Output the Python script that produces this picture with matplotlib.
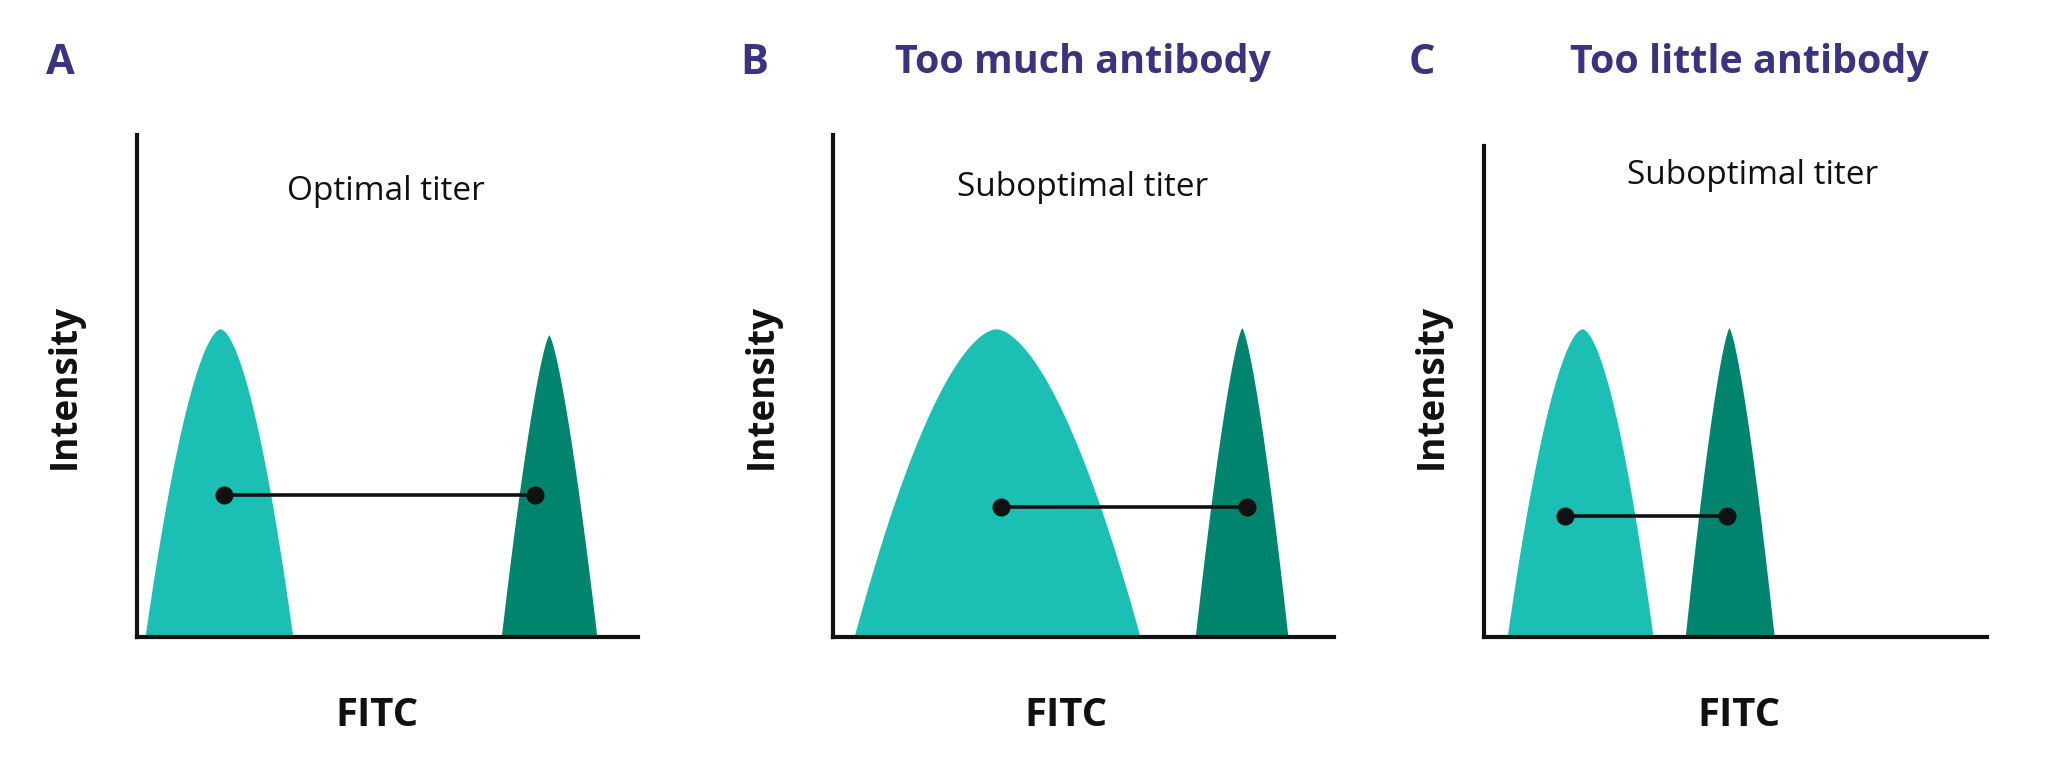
import numpy as np
import matplotlib
matplotlib.use("Agg")
import matplotlib.pyplot as plt

W, H = 2050, 774

# ---- data (x in % of axis width, y in % of axis height) ----
panel_letters = ["A", "B", "C"]
panel_titles = ["", "Too much antibody", "Too little antibody"]
subtitles = ["Optimal titer", "Suboptimal titer", "Suboptimal titer"]

neg_left = [1.6, 4.2, 4.6]
neg_peak = [16.6, 32.5, 19.5]
neg_right = [31.1, 61.3, 33.6]
neg_height = [61.4, 61.4, 61.4]

pos_left = [72.7, 72.3, 40.0]
pos_peak = [82.2, 81.6, 48.7]
pos_right = [91.8, 90.8, 57.7]
pos_height = [60.2, 61.6, 61.6]

link_y = [28.3, 25.9, 24.1]
link_x0 = [17.4, 33.5, 16.1]
link_x1 = [79.4, 82.6, 48.3]

y_top = [100.0, 100.0, 97.8]

# ---- layout (pixels) ----
axes_px = [(137, 638, 135), (833, 1334, 135), (1484, 1987, 146)]
axis_bottom = 637
letter_xy = [(60, 63), (754, 63), (1422, 63)]
title_xy = [(0, 0), (1083, 63), (1749, 63)]
sub_xy = [(386, 191), (1083, 187), (1753, 176)]
ylab_xy = [(65, 386), (762, 386), (1432, 386)]
xlab_xy = [(377, 716), (1066, 716), (1739, 716)]

teal = "#1BBFB3"
dark = "#00846E"
purple = "#38347F"
ink = "#111111"

fig = plt.figure(figsize=(W / 100, H / 100), dpi=100)
fig.patch.set_facecolor("white")

def fx(x):
    return x / W

def fy(y):
    return 1 - y / H

def hump(left, peak, right, height, power, n=300):
    xl = np.linspace(left, peak, n)
    xr = np.linspace(peak, right, n)
    tl = (peak - xl) / (peak - left)
    tr = (xr - peak) / (right - peak)
    yl = height * (1 - tl ** power)
    yr = height * (1 - tr ** power)
    return np.concatenate([xl, xr]), np.concatenate([yl, yr])

for i in range(3):
    x0, x1, top = axes_px[i]
    ax = fig.add_axes([fx(x0), fy(axis_bottom), (x1 - x0) / W, (axis_bottom - top) / H])
    ax.set_xlim(0, 100)
    ax.set_ylim(0, y_top[i])
    for s in ["top", "right"]:
        ax.spines[s].set_visible(False)
    for s in ["left", "bottom"]:
        ax.spines[s].set_linewidth(3.0)
        ax.spines[s].set_color(ink)
        ax.spines[s].set_zorder(5)
    ax.set_xticks([])
    ax.set_yticks([])
    ax.patch.set_alpha(0)

    xs, ys = hump(neg_left[i], neg_peak[i], neg_right[i], neg_height[i], 1.7)
    ax.fill_between(xs, 0, ys, color=teal, lw=0, zorder=2)
    xs, ys = hump(pos_left[i], pos_peak[i], pos_right[i], pos_height[i], 1.35)
    ax.fill_between(xs, 0, ys, color=dark, lw=0, zorder=2)

    ax.plot([link_x0[i], link_x1[i]], [link_y[i], link_y[i]], color=ink, lw=2.6,
            marker="o", markersize=12, zorder=4, solid_capstyle="butt")

    fig.text(fx(letter_xy[i][0]), fy(letter_xy[i][1]), panel_letters[i], color=purple,
             fontsize=30, fontweight="bold", family="Open Sans", ha="center", va="center")
    if panel_titles[i]:
        fig.text(fx(title_xy[i][0]), fy(title_xy[i][1]), panel_titles[i], color=purple,
                 fontsize=28.4, fontweight="bold", family="Open Sans", ha="center", va="center")
    fig.text(fx(sub_xy[i][0]), fy(sub_xy[i][1]), subtitles[i], color=ink,
             fontsize=24, family="Open Sans", ha="center", va="center")
    fig.text(fx(ylab_xy[i][0]), fy(ylab_xy[i][1]), "Intensity", color=ink, rotation=90,
             fontsize=26.6, fontweight="bold", family="Open Sans", ha="center", va="center")
    fig.text(fx(xlab_xy[i][0]), fy(xlab_xy[i][1]), "FITC", color=ink,
             fontsize=28.8, fontweight="bold", family="Open Sans", ha="center", va="center")

fig.savefig("out.png", dpi=100, facecolor="white")
